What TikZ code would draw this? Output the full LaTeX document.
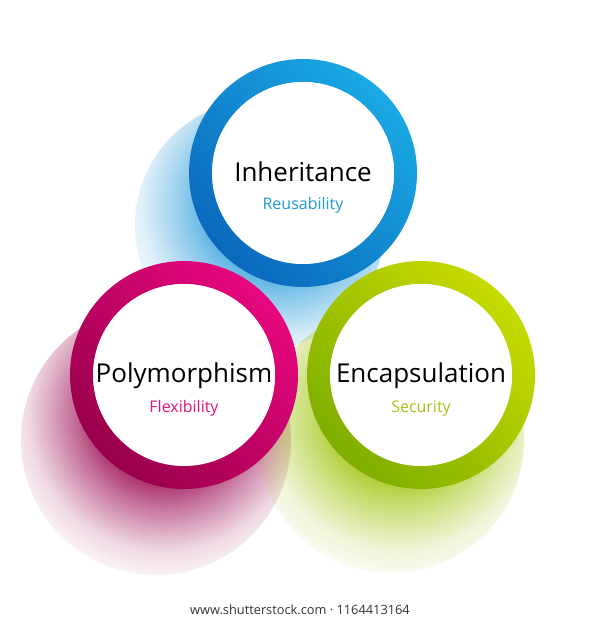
\documentclass[tikz,border=0pt]{standalone}
\usepackage{fontspec}
\setmainfont{Open Sans}
\usetikzlibrary{fadings}
\definecolor{bluelt}{HTML}{1AA9E4}
\definecolor{bluemd}{HTML}{1090D6}
\definecolor{bluedk}{HTML}{0A68BC}
\definecolor{pinklt}{HTML}{E8067F}
\definecolor{pinkmd}{HTML}{D00070}
\definecolor{pinkdk}{HTML}{98004A}
\definecolor{greenlt}{HTML}{C8DA00}
\definecolor{greenmd}{HTML}{B0CC00}
\definecolor{greendk}{HTML}{7EAE00}
\definecolor{greensh}{HTML}{9CC200}
\definecolor{bluetxt}{HTML}{1D9BD8}
\definecolor{pinktxt}{HTML}{E0137F}
\definecolor{greentxt}{HTML}{A6C21A}
\definecolor{foottxt}{HTML}{333333}
\pgfdeclareradialshading{shadowshade}{\pgfpoint{0bp}{0bp}}{color(0bp)=(white); color(8.75bp)=(black!18); color(11.25bp)=(black!40); color(13.75bp)=(black!60); color(16.9bp)=(black!84); color(20bp)=(black!95); color(23bp)=(black); color(50bp)=(black)}
\pgfdeclarefading{shadowfade}{\pgfuseshading{shadowshade}}
\tikzset{
  title/.style={font=\fontsize{26}{30}\selectfont, text=black, anchor=base, inner sep=0pt},
  subtitle/.style={font=\fontsize{16}{19}\selectfont, anchor=base, inner sep=0pt},
  footer/.style={font=\fontsize{12.8}{15}\selectfont, text=foottxt, anchor=base, inner sep=0pt},
  ring/.style={even odd rule, top color=#1lt, middle color=#1md, bottom color=#1dk, shading angle=-45}
}
\begin{document}
\begin{tikzpicture}[x=1pt,y=-1pt]
\useasboundingbox (0,0) rectangle (600,620);
\fill[white] (0,0) rectangle (600,620);
\coordinate (cb) at (303,173);
\coordinate (cp) at (184,375);
\coordinate (cg) at (421,375);
% soft shadows: radial fade around a point below-left of each ring, clipped to an offset disc
\foreach \c/\col/\op/\sx/\sy/\sr/\fx/\fy in {cb/bluemd/0.85/-43/52/125/-25/32, cp/pinkdk/0.95/-28/65/135/-20/40, cg/greensh/0.92/-30/65/133/-22/40} {
  \begin{scope}
    \clip ([shift={(\sx,\sy)}]\c) circle (\sr pt);
    \fill[\col, path fading=shadowfade, fill opacity=\op] ([shift={(\fx,\fy)}]\c) circle (200pt);
  \end{scope}
}
% rings
\shade[ring=blue] (cb) circle (114pt) (cb) circle (91pt);
\shade[ring=pink] (cp) circle (114pt) (cp) circle (91pt);
\shade[ring=green] (cg) circle (114pt) (cg) circle (91pt);
\fill[white] (cb) circle (91pt);
\fill[white] (cp) circle (91pt);
\fill[white] (cg) circle (91pt);
% texts
\node[title] (t1) at (303,182) {Inheritance};
\node[subtitle, text=bluetxt] (s1) at (303,210) {Reusability};
\node[title] (t2) at (184,382) {Polymorphism};
\node[subtitle, text=pinktxt] (s2) at (184,412) {Flexibility};
\node[title] (t3) at (421,382) {Encapsulation};
\node[subtitle, text=greentxt] (s3) at (421,412) {Security};
\node[footer] (ft) at (300,614) {www.shutterstock.com · 1164413164};
\end{tikzpicture}
\end{document}
